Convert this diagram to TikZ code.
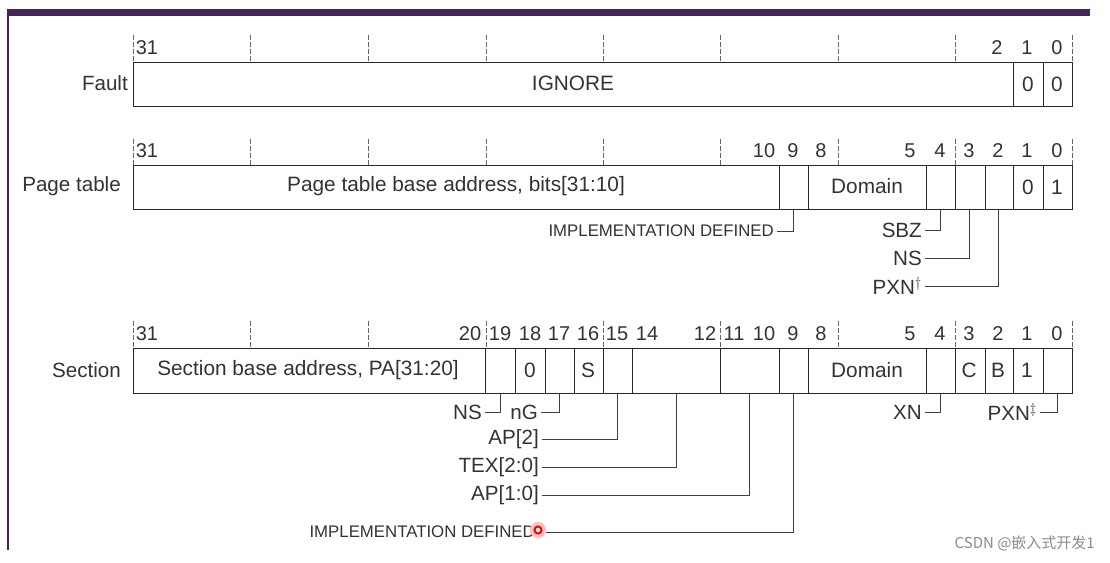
\documentclass[tikz,border=0pt]{standalone}
\usepackage{fontspec}
\setmainfont{Liberation Sans}
\newfontfamily\cjk{Noto Sans CJK SC}
\definecolor{frame}{RGB}{72,36,88}
\begin{document}
\begin{tikzpicture}[x=1pt,y=-1pt,
  fld/.style={draw=black!85,line width=1pt},
  tick/.style={draw=black!60,dash pattern=on 5pt off 2pt,line width=0.7pt},
  num/.style={font=\fontsize{20}{20}\selectfont,text=black!80,inner sep=0pt},
  txt/.style={font=\fontsize{20.8}{21}\selectfont,text=black!80,inner sep=0pt},
  lab/.style={font=\fontsize{20.6}{21}\selectfont,text=black!80,inner sep=0pt,anchor=east},
  small/.style={font=\fontsize{16.8}{17}\selectfont,text=black!80,inner sep=0pt,anchor=east},
  lead/.style={draw=black!75,line width=0.8pt}]
\useasboundingbox (0,0) rectangle (1110,562);
\fill[white] (0,0) rectangle (1110,562);
\fill[frame] (8,9) rectangle (1090,16);
\draw[frame,line width=2pt] (8,9) -- (8,550);
% ticks
\foreach \y in {35,139,321}{
  \foreach \x in {133,250,368,486,603,720,838,955,1072}{
    \draw[tick] (\x,\y) -- (\x,\y+27);}}
% row labels
\node[lab] (lf) at (128,83) {Fault};
\node[lab] (lp) at (121,186) {Page table};
\node[lab] (ls) at (121,370) {Section};
% Fault
\draw[fld] (133,62) rectangle (1072,106);
\foreach \x in {1013,1043}{\draw[fld] (\x,62) -- (\x,106);}
\node[txt] (ign) at (573,83) {IGNORE};
\node[txt] at (1028,84) {0};
\node[txt] at (1057,84) {0};
\foreach \b/\x in {31/147,2/997,1/1027,0/1057}{\node[num] at (\x,48) {\b};}
% Page table
\draw[fld] (133,165) rectangle (1072,209);
\foreach \x in {779,808,926,955,985,1013,1043}{\draw[fld] (\x,165) -- (\x,209);}
\node[txt] (ptb) at (456,186) {Page table base address, bits[31:10]};
\node[txt] at (867,186) {Domain};
\node[txt] at (1028,187) {0};
\node[txt] at (1057,187) {1};
\foreach \b/\x in {31/147,10/764,9/793,8/821,5/910,4/940,3/969,2/998,1/1027,0/1057}{\node[num] at (\x,151) {\b};}
\node[small] (pid) at (774,231) {IMPLEMENTATION DEFINED};
\node[lab] (psbz) at (922,230) {SBZ};
\node[lab] (pns) at (922,258) {NS};
\node[lab] (ppxn) at (922,286) {PXN$^\dagger$};
\draw[lead] (pid.east) ++(3,0) -| (793,209);
\draw[lead] (psbz.east) ++(3,0) -| (940,209);
\draw[lead] (pns.east) ++(3,0) -| (969,209);
\draw[lead] (ppxn.east) ++(3,0) -| (998,209);
% Section
\draw[fld] (133,348) rectangle (1072,393);
\foreach \x in {485,515,545,574,603,632,720,779,808,926,955,985,1013,1043}{\draw[fld] (\x,348) -- (\x,393);}
\node[txt] (sba) at (308,370) {Section base address, PA[31:20]};
\node[txt] at (530,370) {0};
\node[txt] at (588,370) {S};
\node[txt] at (867,370) {Domain};
\node[txt] at (969,370) {C};
\node[txt] at (998,370) {B};
\node[txt] at (1027,370) {1};
\foreach \b/\x in {31/147,20/470,19/500,18/530,17/559,16/588,15/617,14/647,12/705,11/734,10/764,9/793,8/821,5/910,4/940,3/969,2/998,1/1027,0/1057}{\node[num] at (\x,334) {\b};}
\node[lab] (sns) at (482,412) {NS};
\node[lab] (sng) at (538,412) {nG};
\node[lab] (sap2) at (539,439) {AP[2]};
\node[lab] (stex) at (539,467) {TEX[2:0]};
\node[lab] (sap) at (539,495) {AP[1:0]};
\node[small] (sid) at (535,532) {IMPLEMENTATION DEFINED};
\node[lab] (sxn) at (922,412) {XN};
\node[lab] (spxn) at (1037,412) {PXN$^\ddagger$};
\draw[lead] (sns.east) ++(3,0) -| (500,393);
\draw[lead] (sng.east) ++(3,0) -| (559,393);
\draw[lead] (sap2.east) ++(3,0) -| (617,393);
\draw[lead] (stex.east) ++(3,0) -| (676,393);
\draw[lead] (sap.east) ++(3,0) -| (749,393);
\draw[lead] (sid.east) ++(11,0) -| (793,393);
\draw[lead] (sxn.east) ++(3,0) -| (940,393);
\draw[lead] (spxn.east) ++(3,0) -| (1057,393);
\fill[red!25] (sid.east) ++(3,-2) circle (8);
\draw[red,line width=2pt,fill=white] (sid.east) ++(3,-2) circle (3.5);
\node[font=\cjk\fontsize{15}{15}\selectfont,text=black!45,anchor=east,inner sep=0pt] (wm) at (1095,543) {CSDN @嵌入式开发1};
\end{tikzpicture}
\end{document}
